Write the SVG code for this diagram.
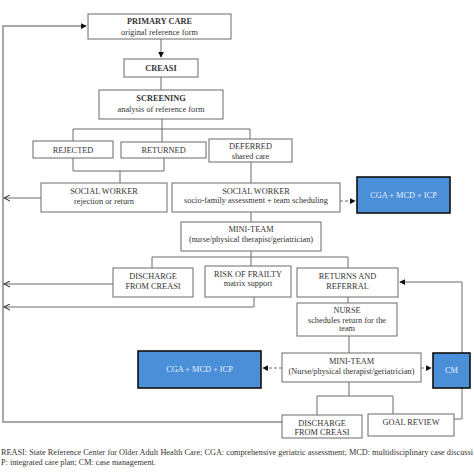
<svg xmlns="http://www.w3.org/2000/svg" width="474" height="474" viewBox="0 0 474 474">
<defs>
<style>
.box{fill:#fff;stroke:#6a6a6a;stroke-width:1}
.blue{fill:#4a8fd8;stroke:#111;stroke-width:1.6}
text{font-family:"Liberation Serif","Times New Roman",serif;font-size:8.3px;fill:#333;text-anchor:middle}
.b{font-weight:bold}
.w{fill:#e6eefa}
.cap{text-anchor:start;font-size:8.2px}
.ln{fill:none;stroke:#6a6a6a;stroke-width:1}
.dash{stroke-dasharray:3,2}
.lp{fill:none;stroke:#8a8a8a;stroke-width:1.5}
</style>
<marker id="ah" viewBox="0 0 8 8" refX="7" refY="4" markerWidth="6" markerHeight="6" markerUnits="userSpaceOnUse" orient="auto"><path d="M0,0 L8,4 L0,8 z" fill="#111"/></marker>
<marker id="op" viewBox="0 0 8 8" refX="7" refY="4" markerWidth="7" markerHeight="7" markerUnits="userSpaceOnUse" orient="auto"><path d="M0,0.5 L7,4 L0,7.5" fill="none" stroke="#333" stroke-width="1.2"/></marker>
</defs>
<g id="connectors">
<path class="lp" d="M282,422 H3 V26 H86" marker-end="url(#ah)"/>
<path class="ln" d="M161,39 V57" marker-end="url(#ah)"/>
<path class="ln" d="M161,77 V90"/>
<path class="ln" d="M162,119 V142"/>
<path class="ln" d="M73,141 V129 H250 V139"/>
<path class="ln" d="M73,158 V171 H164 V158 M120,171 V183"/>
<path class="ln" d="M251,162 V183"/>
<path class="ln" d="M41,198 H4" marker-end="url(#op)"/>
<path class="ln dash" d="M340,201 H355" marker-end="url(#ah)"/>
<path class="ln" d="M251,212 V222"/>
<path class="ln" d="M251,251 V266 M152,268 V257 H348 V268"/>
<path class="ln" d="M113,284 H4" marker-end="url(#op)"/>
<path class="ln" d="M254,297 V307 H4" marker-end="url(#op)"/>
<path class="ln" d="M348,297 V303"/>
<path class="ln" d="M349,336 V353"/>
<path class="ln dash" d="M282,368 H263" marker-end="url(#ah)"/>
<path class="ln dash" d="M421,368 H431" marker-end="url(#ah)"/>
<path class="ln" d="M462,353 V282 H400" marker-end="url(#ah)"/>
<path class="ln" d="M349,382 V396 M317,415 V396 H393 V414"/>
<path class="ln" d="M454,419 H462 V388"/>
</g>
<g id="primary"><rect class="box" x="88" y="14" width="143" height="25"/><text class="b" x="159.5" y="24">PRIMARY CARE</text><text x="159.5" y="34.5">original reference form</text></g>
<g id="creasi"><rect class="box" x="124" y="59" width="74" height="18"/><text class="b" x="161" y="71">CREASI</text></g>
<g id="screening"><rect class="box" x="99" y="90" width="124" height="29"/><text class="b" x="161" y="101">SCREENING</text><text x="161" y="112">analysis of reference form</text></g>
<g id="rejected"><rect class="box" x="33" y="141" width="80" height="17"/><text x="73" y="152.5">REJECTED</text></g>
<g id="returned"><rect class="box" x="121" y="142" width="85" height="16"/><text x="163.5" y="153">RETURNED</text></g>
<g id="deferred"><rect class="box" x="209" y="139" width="83" height="23"/><text x="250.5" y="149">DEFERRED</text><text x="250.5" y="159">shared care</text></g>
<g id="sw1"><rect class="box" x="41" y="183" width="126" height="29"/><text x="104" y="194">SOCIAL WORKER</text><text x="104" y="204">rejection or return</text></g>
<g id="sw2"><rect class="box" x="172" y="183" width="168" height="29"/><text x="256" y="193.5">SOCIAL WORKER</text><text x="256" y="203">socio-family assessment + team scheduling</text></g>
<g id="cga1"><rect class="blue" x="357" y="177" width="93" height="36"/><text class="w" x="403.5" y="198">CGA + MCD + ICP</text></g>
<g id="miniteam1"><rect class="box" x="181" y="222" width="140" height="29"/><text x="251" y="232">MINI-TEAM</text><text x="251" y="242">(nurse/physical therapist/geriatrician)</text></g>
<g id="discharge1"><rect class="box" x="113" y="268" width="80" height="29"/><text x="153" y="278.5">DISCHARGE</text><text x="153" y="288.5">FROM CREASI</text></g>
<g id="risk"><rect class="box" x="205" y="266" width="86" height="31"/><text x="248" y="277">RISK OF FRAILTY</text><text x="248" y="286">matrix support</text></g>
<g id="returns"><rect class="box" x="297" y="268" width="101" height="29"/><text x="347.5" y="278.5">RETURNS AND</text><text x="347.5" y="289">REFERRAL</text></g>
<g id="nurse"><rect class="box" x="297" y="303" width="100" height="33"/><text x="347" y="313">NURSE</text><text x="347" y="322.5">schedules return for the</text><text x="347" y="331">team</text></g>
<g id="miniteam2"><rect class="box" x="282" y="353" width="139" height="29"/><text x="351.5" y="363.5">MINI-TEAM</text><text x="351.5" y="374">(Nurse/physical therapist/geriatrician)</text></g>
<g id="cga2"><rect class="blue" x="138" y="351" width="123" height="37"/><text class="w" x="199.5" y="372">CGA + MCD + ICP</text></g>
<g id="cm"><rect class="blue" x="433" y="353" width="37" height="35"/><text class="w" x="451.5" y="373">CM</text></g>
<g id="discharge2"><rect class="box" x="282" y="415" width="80" height="23"/><text x="322" y="425.5">DISCHARGE</text><text x="322" y="435">FROM CREASI</text></g>
<g id="goal"><rect class="box" x="368" y="414" width="86" height="22"/><text x="411" y="425">GOAL REVIEW</text></g>
<g id="caption"><text class="cap" x="1" y="455" textLength="472" lengthAdjust="spacingAndGlyphs">REASI: State Reference Center for Older Adult Health Care; CGA: comprehensive geriatric assessment; MCD: multidisciplinary case discussi</text><text class="cap" x="1" y="465">P: integrated care plan; CM: case management.</text></g>
</svg>
